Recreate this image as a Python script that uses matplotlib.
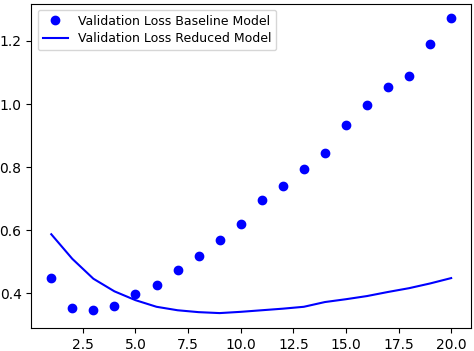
import matplotlib
matplotlib.use("Agg")
import matplotlib.pyplot as plt

epochs = list(range(1, 21))
val_loss_baseline = [0.448, 0.354, 0.346, 0.359, 0.398, 0.425, 0.475, 0.517, 0.570, 0.620,
                     0.695, 0.741, 0.794, 0.844, 0.934, 0.996, 1.055, 1.088, 1.191, 1.272]
val_loss_reduced = [0.587, 0.509, 0.446, 0.406, 0.378, 0.357, 0.346, 0.340, 0.337, 0.341,
                    0.346, 0.351, 0.357, 0.372, 0.381, 0.391, 0.404, 0.416, 0.431, 0.448]

fig = plt.figure(figsize=(4.74, 3.51), dpi=100)
plt.plot(epochs, val_loss_baseline, "bo", label="Validation Loss Baseline Model")
plt.plot(epochs, val_loss_reduced, "b", label="Validation Loss Reduced Model")
plt.legend(fontsize=9, labelspacing=0.35)
plt.subplots_adjust(left=0.066, right=0.994, top=0.99, bottom=0.066)
plt.savefig("out.png")
